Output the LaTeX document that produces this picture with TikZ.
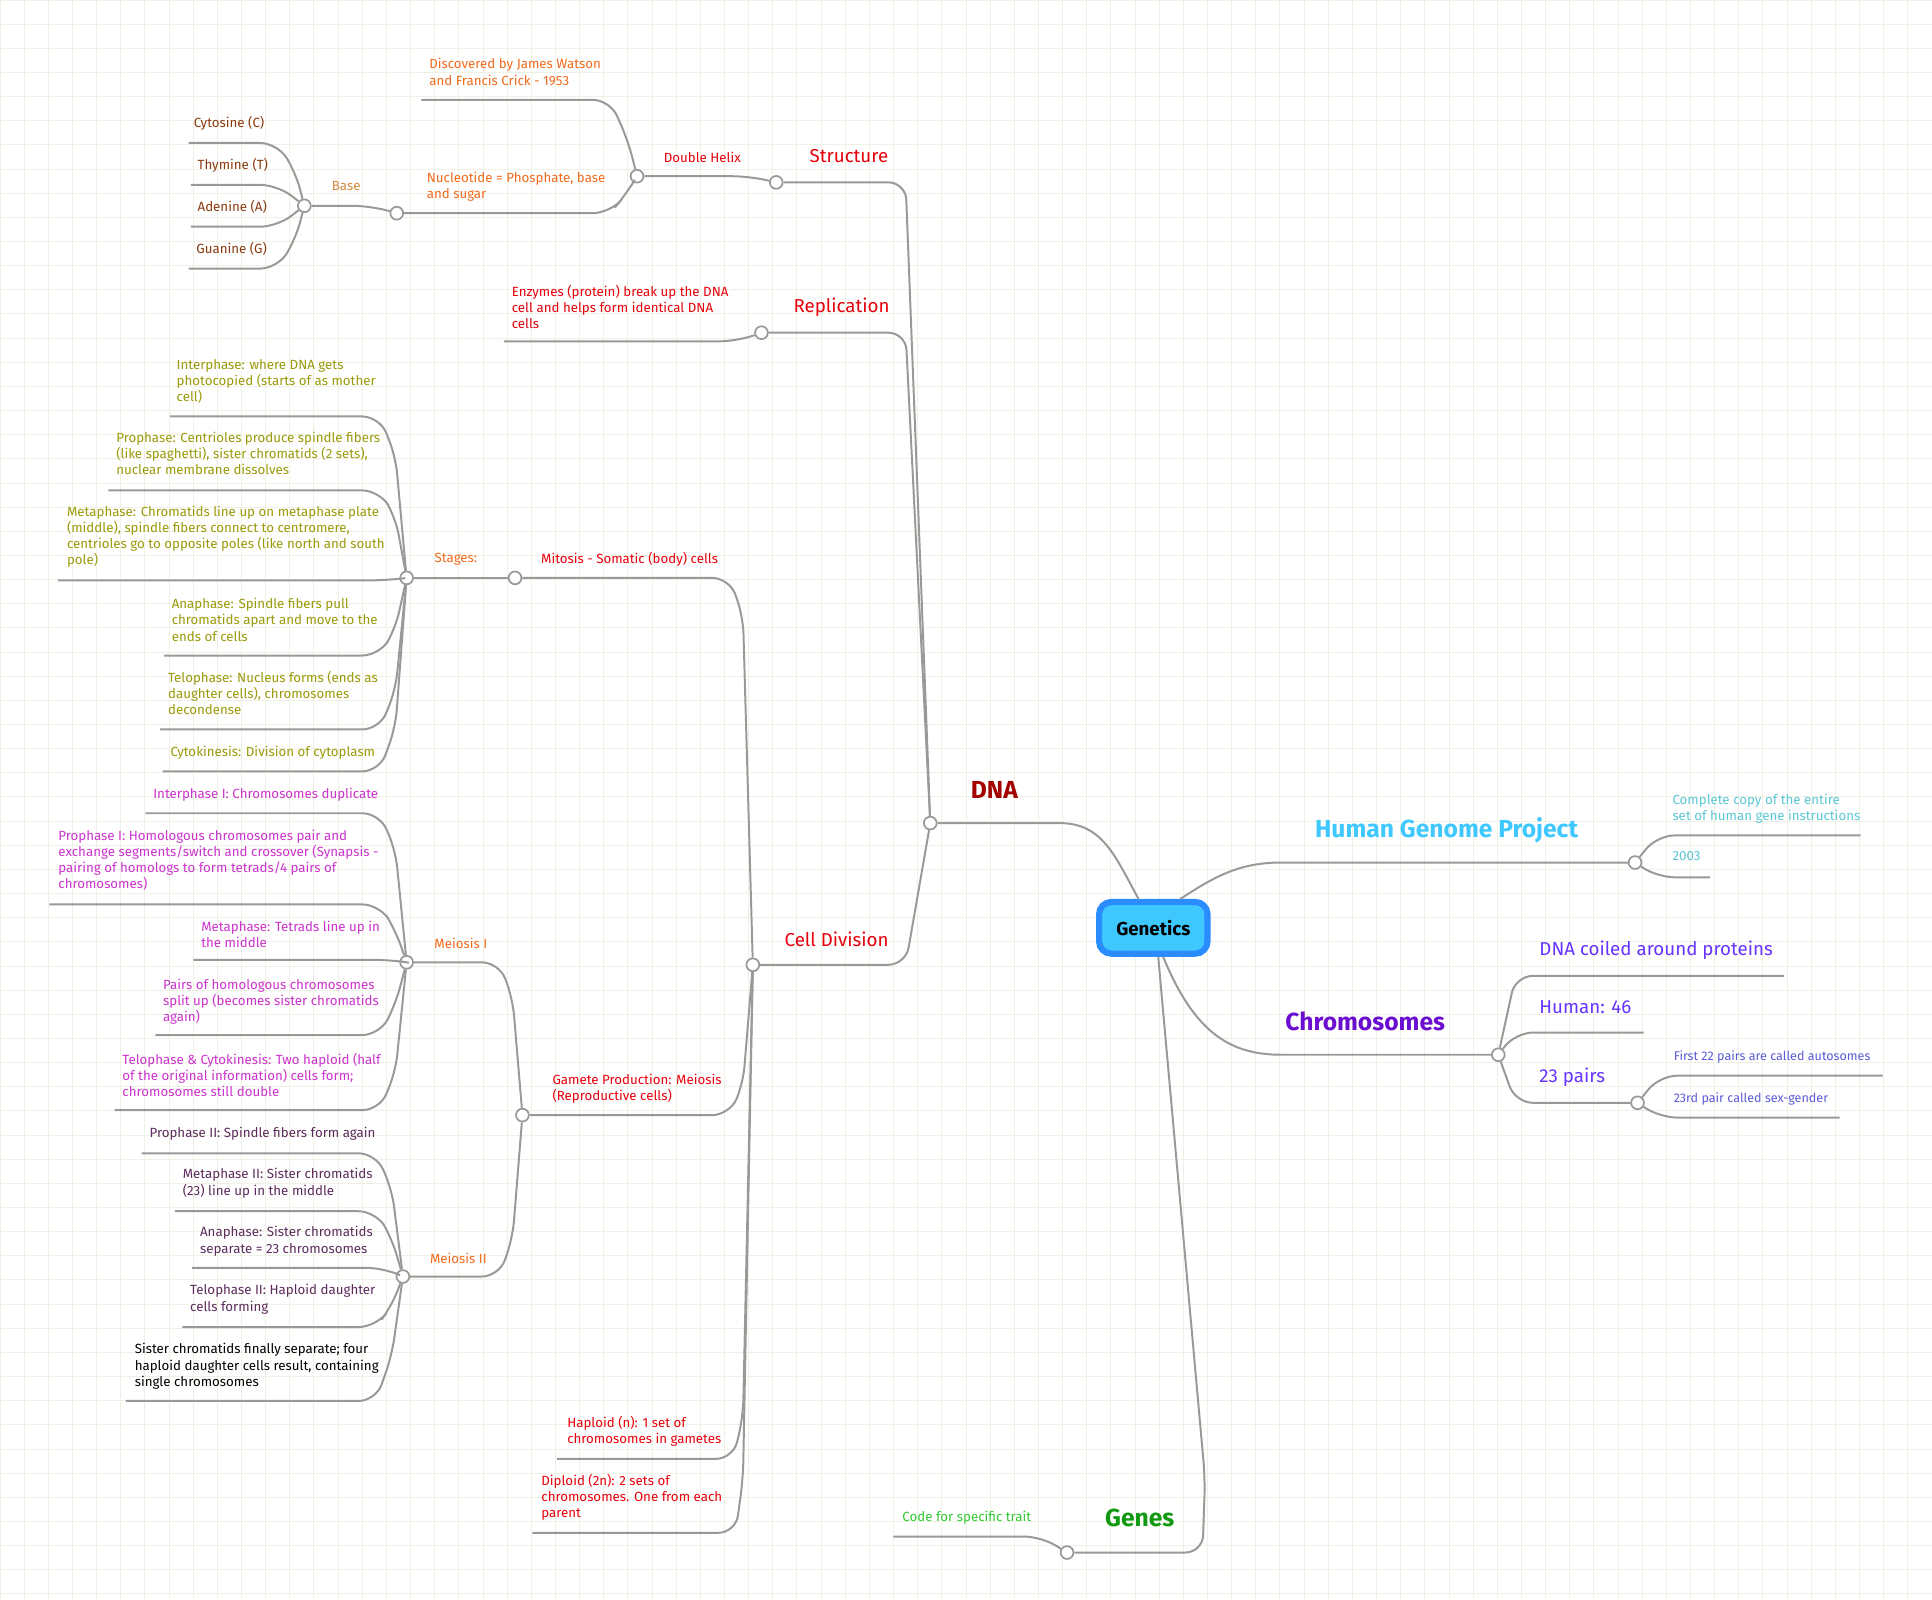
\documentclass[tikz,border=0pt]{standalone}
\usepackage{fontspec}
\setmainfont{Fira Sans}
\usetikzlibrary{calc}
\definecolor{cOr}{HTML}{F26B1D}
\definecolor{cBr}{HTML}{8B3A0F}
\definecolor{cRd}{HTML}{E8000B}
\definecolor{cOl}{HTML}{9A9A0A}
\definecolor{cMg}{HTML}{CC33CC}
\definecolor{cDp}{HTML}{5C2C5C}
\definecolor{cTl}{HTML}{5CC8D6}
\definecolor{cVi}{HTML}{6633FF}
\definecolor{cLv}{HTML}{5B5BD6}
\definecolor{cGs}{HTML}{33C833}
\definecolor{cGn}{HTML}{119911}
\definecolor{cDNA}{HTML}{A30000}
\definecolor{cHGP}{HTML}{3EC8FF}
\definecolor{cChr}{HTML}{6A0DD0}
\definecolor{cBase}{HTML}{D4883A}
\definecolor{grid}{HTML}{EEF1E4}
\definecolor{ln}{HTML}{999999}
\begin{document}
\begin{tikzpicture}[x=0.5pt,y=-0.5pt,
  conn/.style={draw=ln,line width=0.8pt,rounded corners=7pt},
  jn/.style={circle,draw=ln,fill=white,line width=0.7pt,minimum size=5.2pt,inner sep=0},
  lt/.style={anchor=north west,inner sep=0,align=left,font=\fontsize{5.4}{6.6}\selectfont},
  sl/.style={inner sep=0,font=\fontsize{5.4}{6.6}\selectfont},
  ml/.style={inner sep=0,font=\fontsize{7.6}{9}\selectfont},
  bl/.style={inner sep=0,font=\bfseries\fontsize{10}{12}\selectfont}]
\useasboundingbox (0,0) rectangle (1568,1298);
\fill[white] (0,0) rectangle (1568,1298);
\foreach \i in {0,...,80} {\draw[grid,line width=0.4pt] (\i*19.6,0) -- (\i*19.6,1298);}
\foreach \i in {0,...,66} {\draw[grid,line width=0.4pt] (0,\i*19.6) -- (1568,\i*19.6);}

% center
\node[draw=cHGP!70!blue,line width=2.5pt,fill=cHGP,rounded corners=5pt,minimum width=44pt,minimum height=21pt,font=\bfseries\fontsize{7.6}{9}\selectfont] (gen) at (936,753) {Genetics};

% junctions
\node[jn] (dna) at (755,668) {};
\node[jn] (hgp) at (1327,700) {};
\node[jn] (chr) at (1216,856) {};
\node[jn] (genes) at (866,1260) {};
\node[jn] (str) at (630,148) {};
\node[jn] (rep) at (618,270) {};
\node[jn] (cd) at (611,783) {};
\node[jn] (dh) at (517,143) {};
\node[jn] (nuc) at (322,173) {};
\node[jn] (base) at (247,167) {};
\node[jn] (mit) at (418,469) {};
\node[jn] (stg) at (330,469) {};
\node[jn] (gam) at (424,905) {};
\node[jn] (m1) at (330,781) {};
\node[jn] (m2) at (327,1036) {};
\node[jn] (p23) at (1329,895) {};

% main branches
\draw[draw=ln,line width=0.8pt] ($(gen.north)+(-12,0)$) .. controls (905,695) and (895,668) .. (860,668) -- (dna);
\draw[draw=ln,line width=0.8pt] ($(gen.north)+(22,0)$) .. controls (985,712) and (1005,700) .. (1040,700) -- (hgp);
\draw[draw=ln,line width=0.8pt] ($(gen.south)+(8,0)$) .. controls (970,840) and (1000,856) .. (1040,856) -- (chr);
\draw[conn] ($(gen.south)+(4,0)$) -- (978,1200) -- (976,1260) -- (genes);
\node[bl,text=cDNA] at (807,641) {DNA};
\node[bl,text=cHGP] at (1174,674) {Human Genome Project};
\node[bl,text=cChr] at (1108,829) {Chromosomes};
\node[bl,text=cGn] at (925,1232) {Genes};

% DNA children
\draw[conn] (str) -- (735,148) -- (dna);
\draw[conn] (rep) -- (735,270) -- (dna);
\draw[conn] (cd) -- (735,783) -- (dna);
\node[ml,text=cRd] at (689,127) {Structure};
\node[ml,text=cRd] at (683,249) {Replication};
\node[ml,text=cRd] at (679,762) {Cell Division};

% Structure
\draw[conn] (str) -- (608,143) -- (dh);
\node[sl,text=cRd] at (570,128) {Double Helix};
\coordinate (disc) at (342,81);
\draw[conn] (disc) -- (495,81) -- (510,115) -- (dh);
\node[lt,text=cOr] at (348,47) {Discovered by James Watson\\and Francis Crick - 1953};
\draw[conn] (nuc) -- (495,173) -- (508,158) -- (dh);
\node[lt,text=cOr] at (346,139) {Nucleotide = Phosphate, base\\and sugar};
\draw[conn] (nuc) -- (300,167) -- (base);
\node[sl,text=cBase] at (281,151) {Base};
\coordinate (cyt) at (153,116);
\coordinate (thy) at (155,150);
\coordinate (ade) at (155,184);
\coordinate (gua) at (153,218);
\draw[conn] (cyt) -- (225,116) -- (240,140) -- (base);
\draw[conn] (thy) -- (225,150) -- (base);
\draw[conn] (ade) -- (225,184) -- (base);
\draw[conn] (gua) -- (225,218) -- (240,194) -- (base);
\node[lt,text=cBr] at (157,94) {Cytosine (C)};
\node[lt,text=cBr] at (160,128) {Thymine (T)};
\node[lt,text=cBr] at (160,162) {Adenine (A)};
\node[lt,text=cBr] at (159,196) {Guanine (G)};

% Replication
\coordinate (enz) at (409,277);
\draw[conn] (enz) -- (598,277) -- (rep);
\node[lt,text=cRd] at (415,231) {Enzymes (protein) break up the DNA\\cell and helps form identical DNA\\cells};

% Cell division
\draw[conn] (mit) -- (592,469) -- (603,500) -- (cd);
\node[sl,text=cRd] at (511,454) {Mitosis - Somatic (body) cells};
\draw[conn] (gam) -- (592,905) -- (603,880) -- (cd);
\node[lt,text=cRd] at (448,871) {Gamete Production: Meiosis\\(Reproductive cells)};
\coordinate (hap) at (452,1184);
\draw[conn] (hap) -- (595,1184) -- (603,1150) -- (cd);
\node[lt,text=cRd] at (460,1149) {Haploid (n): 1 set of\\chromosomes in gametes};
\coordinate (dip) at (432,1244);
\draw[conn] (dip) -- (597,1244) -- (603,1200) -- (cd);
\node[lt,text=cRd] at (439,1196) {Diploid (2n): 2 sets of\\chromosomes. One from each\\parent};

% Mitosis stages
\draw[conn] (mit) -- (stg);
\node[sl,text=cOr] at (370,454) {Stages:};
\coordinate (s1) at (138,338);
\coordinate (s2) at (88,398);
\coordinate (s3) at (47,471);
\coordinate (s4) at (133,532);
\coordinate (s5) at (130,592);
\coordinate (s6) at (132,626);
\draw[conn] (s1) -- (308,338) -- (321,370) -- (stg);
\draw[conn] (s2) -- (308,398) -- (321,420) -- (stg);
\draw[conn] (s3) -- (315,471) -- (stg);
\draw[conn] (s4) -- (308,532) -- (321,510) -- (stg);
\draw[conn] (s5) -- (308,592) -- (321,560) -- (stg);
\draw[conn] (s6) -- (308,626) -- (321,590) -- (stg);
\node[lt,text=cOl] at (143,291) {Interphase: where DNA gets\\photocopied (starts of as mother\\cell)};
\node[lt,text=cOl] at (94,350) {Prophase: Centrioles produce spindle fibers\\(like spaghetti), sister chromatids (2 sets),\\nuclear membrane dissolves};
\node[lt,text=cOl] at (54,410) {Metaphase: Chromatids line up on metaphase plate\\(middle), spindle fibers connect to centromere,\\centrioles go to opposite poles (like north and south\\pole)};
\node[lt,text=cOl] at (139,485) {Anaphase: Spindle fibers pull\\chromatids apart and move to the\\ends of cells};
\node[lt,text=cOl] at (136,544) {Telophase: Nucleus forms (ends as\\daughter cells), chromosomes\\decondense};
\node[lt,text=cOl] at (138,605) {Cytokinesis: Division of cytoplasm};

% Gamete production
\draw[conn] (m1) -- (405,781) -- (416,810) -- (gam);
\draw[conn] (m2) -- (405,1036) -- (416,1005) -- (gam);
\node[sl,text=cOr] at (374,766) {Meiosis I};
\node[sl,text=cOr] at (372,1021) {Meiosis II};

% Meiosis I
\coordinate (a1) at (118,660);
\coordinate (a2) at (40,734);
\coordinate (a3) at (157,779);
\coordinate (a4) at (126,840);
\coordinate (a5) at (93,901);
\draw[conn] (a1) -- (308,660) -- (321,690) -- (m1);
\draw[conn] (a2) -- (308,734) -- (321,755) -- (m1);
\draw[conn] (a3) -- (318,779) -- (m1);
\draw[conn] (a4) -- (308,840) -- (321,815) -- (m1);
\draw[conn] (a5) -- (308,901) -- (321,870) -- (m1);
\node[lt,text=cMg] at (124,639) {Interphase I: Chromosomes duplicate};
\node[lt,text=cMg] at (47,673) {Prophase I: Homologous chromosomes pair and\\exchange segments/switch and crossover (Synapsis -\\pairing of homologs to form tetrads/4 pairs of\\chromosomes)};
\node[lt,text=cMg] at (163,747) {Metaphase: Tetrads line up in\\the middle};
\node[lt,text=cMg] at (132,794) {Pairs of homologous chromosomes\\split up (becomes sister chromatids\\again)};
\node[lt,text=cMg] at (99,854) {Telophase \& Cytokinesis: Two haploid (half\\of the original information) cells form;\\chromosomes still double};

% Meiosis II
\coordinate (b1) at (115,936);
\coordinate (b2) at (142,983);
\coordinate (b3) at (156,1029);
\coordinate (b4) at (148,1077);
\coordinate (b5) at (102,1137);
\draw[conn] (b1) -- (305,936) -- (318,965) -- (m2);
\draw[conn] (b2) -- (305,983) -- (318,1005) -- (m2);
\draw[conn] (b3) -- (312,1029) -- (m2);
\draw[conn] (b4) -- (305,1077) -- (318,1060) -- (m2);
\draw[conn] (b5) -- (305,1137) -- (318,1100) -- (m2);
\node[lt,text=cDp] at (121,914) {Prophase II: Spindle fibers form again};
\node[lt,text=cDp] at (148,948) {Metaphase II: Sister chromatids\\(23) line up in the middle};
\node[lt,text=cDp] at (162,995) {Anaphase: Sister chromatids\\separate = 23 chromosomes};
\node[lt,text=cDp] at (154,1042) {Telophase II: Haploid daughter\\cells forming};
\node[lt,text=black] at (109,1090) {Sister chromatids finally separate; four\\haploid daughter cells result, containing\\single chromosomes};

% HGP
\coordinate (h1) at (1510,678);
\coordinate (h2) at (1388,712);
\draw[conn] (hgp) -- (1345,678) -- (h1);
\draw[conn] (hgp) -- (1345,712) -- (h2);
\node[lt,text=cTl] at (1357,644) {Complete copy of the entire\\set of human gene instructions};
\node[lt,text=cTl] at (1357,691) {2003};

% Chromosomes
\coordinate (c1) at (1448,792);
\coordinate (c2) at (1334,838);
\draw[conn] (chr) -- (1230,792) -- (c1);
\draw[conn] (chr) -- (1230,838) -- (c2);
\draw[conn] (chr) -- (1230,895) -- (p23);
\node[ml,text=cVi,anchor=west] at (1249,771) {DNA coiled around proteins};
\node[ml,text=cVi,anchor=west] at (1249,817) {Human: 46};
\node[ml,text=cVi,anchor=west] at (1249,874) {23 pairs};
\coordinate (q1) at (1528,873);
\coordinate (q2) at (1493,907);
\draw[conn] (p23) -- (1347,873) -- (q1);
\draw[conn] (p23) -- (1347,907) -- (q2);
\node[lt,text=cLv,font=\fontsize{5.1}{6}\selectfont] at (1358,852) {First 22 pairs are called autosomes};
\node[lt,text=cLv,font=\fontsize{5.1}{6}\selectfont] at (1358,886) {23rd pair called sex-gender};

% Genes
\coordinate (gl) at (725,1247);
\draw[conn] (gl) -- (845,1247) -- (genes);
\node[lt,text=cGs] at (732,1226) {Code for specific trait};
\end{tikzpicture}
\end{document}
